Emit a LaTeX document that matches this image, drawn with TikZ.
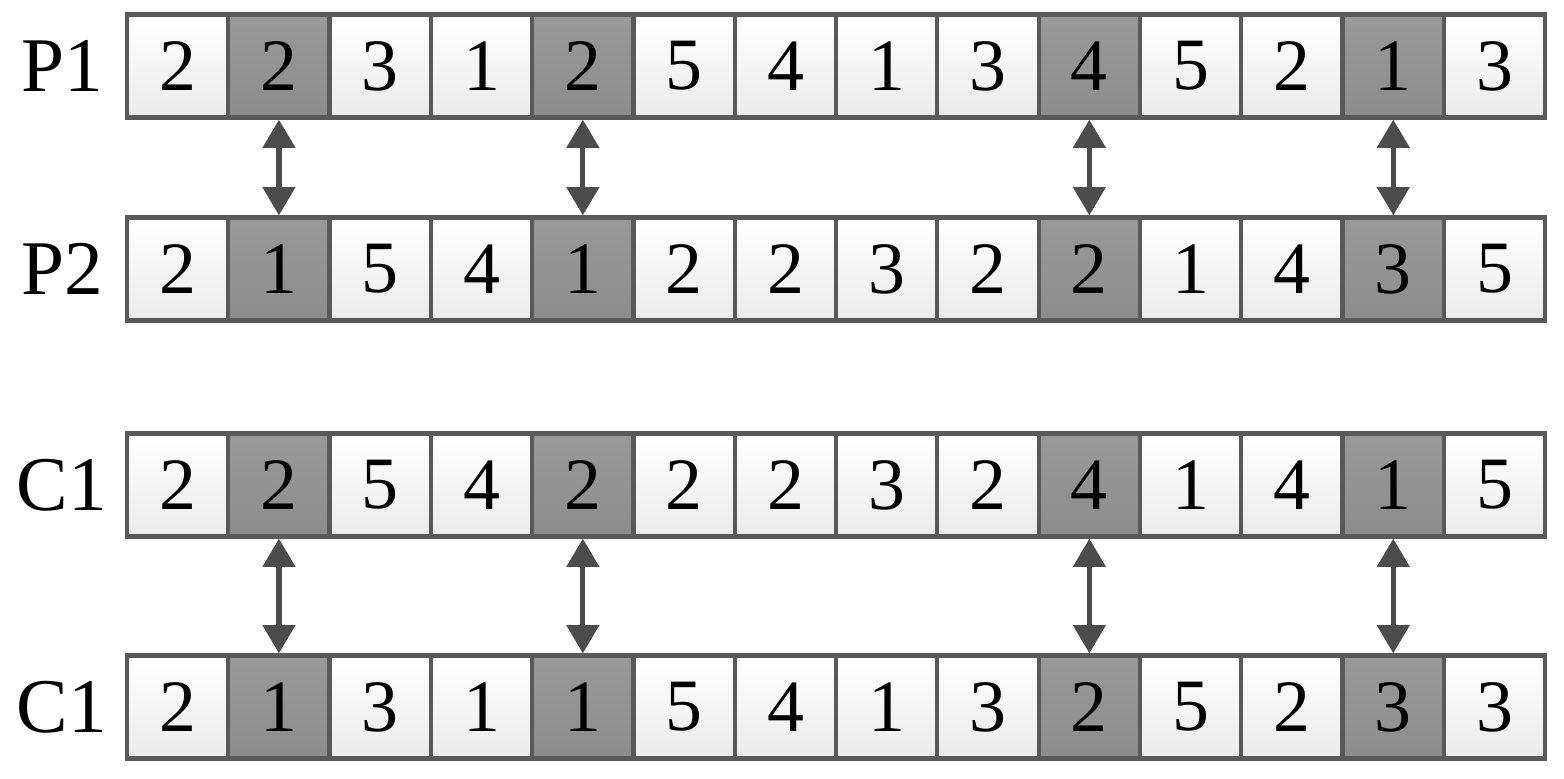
\documentclass[tikz,border=0pt]{standalone}
\usepackage{fontspec}
\setmainfont{Liberation Serif}
\usetikzlibrary{arrows.meta}
\tikzset{
 cellw/.style={draw=black!65,line width=1.2pt,top color=white,bottom color=black!8,minimum width=1.013cm,minimum height=1.03cm,inner sep=0pt,font=\fontsize{21}{21}\selectfont},
 cellg/.style={cellw,top color=black!40,bottom color=black!45},
 lab/.style={font=\fontsize{22}{22}\selectfont},
 swap/.style={{Triangle[length=8pt,width=9pt]}-{Triangle[length=8pt,width=9pt]},draw=black!70,line width=1.5pt}
}
\begin{document}
\begin{tikzpicture}[x=0.01cm,y=-0.01cm]
\useasboundingbox (0,0) rectangle (1564,779);
\def\rowdraw#1#2#3#4{% name, y, label, values
 \node[lab] at (62,#2) {#3};
 \foreach \v [count=\i] in {#4}{
   \pgfmathsetmacro\xx{127+101.3*(\i-0.5)}
   \ifnum\i=2 \def\st{cellg}\else\ifnum\i=5 \def\st{cellg}\else\ifnum\i=10 \def\st{cellg}\else\ifnum\i=13 \def\st{cellg}\else\def\st{cellw}\fi\fi\fi\fi
   \node[\st] (#1-\i) at (\xx,#2) {\v};
 }
}
\rowdraw{a}{66}{P1}{2,2,3,1,2,5,4,1,3,4,5,2,1,3}
\rowdraw{b}{269}{P2}{2,1,5,4,1,2,2,3,2,2,1,4,3,5}
\rowdraw{c}{485}{C1}{2,2,5,4,2,2,2,3,2,4,1,4,1,5}
\rowdraw{d}{707}{C1}{2,1,3,1,1,5,4,1,3,2,5,2,3,3}
\foreach \i in {2,5,10,13}{
 \draw[swap] (a-\i.south) -- (b-\i.north);
 \draw[swap] (c-\i.south) -- (d-\i.north);
}
\end{tikzpicture}
\end{document}
